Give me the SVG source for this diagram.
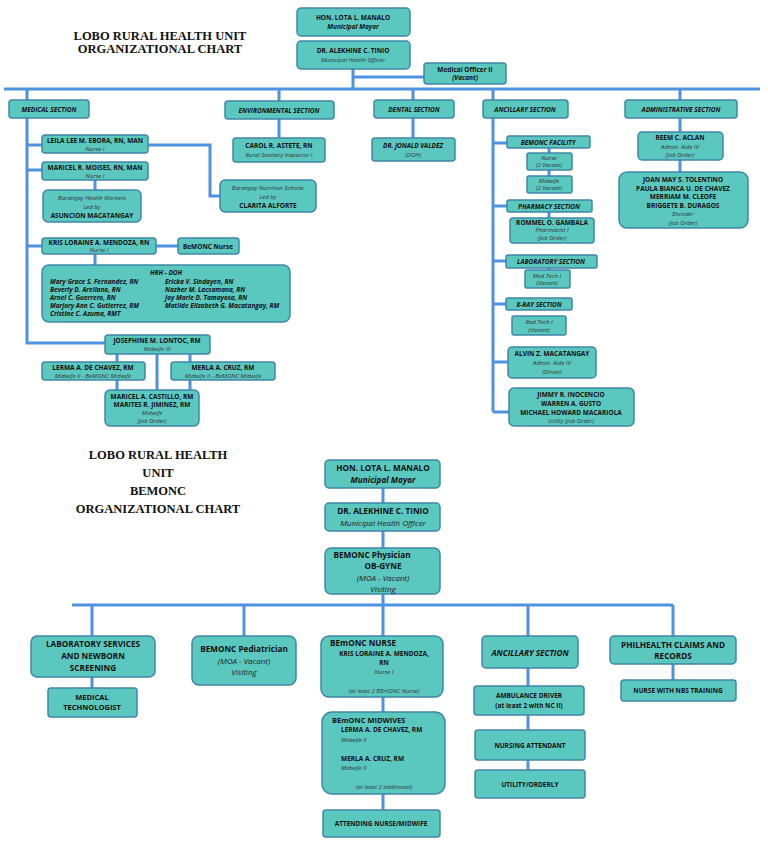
<svg xmlns="http://www.w3.org/2000/svg" width="768" height="866" viewBox="0 0 768 866">
<style>
.b{fill:#5bc8c0;stroke:#3f86a8;stroke-width:1.5}
.c{stroke:#4f92e0;stroke-width:3;fill:none}
text{font-family:"Open Sans","Liberation Sans",sans-serif;text-anchor:middle;fill:#111}
.t{font-size:6.5px;font-weight:bold}
.i{font-size:6px;font-style:italic;fill:#333}
.bi{font-size:6.5px;font-weight:bold;font-style:italic}
.h{font-family:"Liberation Serif",serif;font-weight:bold;font-size:12.5px}
.T{font-size:8.2px;font-weight:bold}
.I{font-size:8px;font-style:italic;fill:#222}
.s{font-size:7.5px;font-weight:bold}
</style>
<rect width="768" height="866" fill="#fff"/>
<g id="connectors">
<path class="c" d="M353 69V89M353 77H424M4 89H760M27 89V343H105M279 89V101M413 89V100M493 89V412M680 89V100"/>
<path class="c" d="M27 145H42M27 170H42M27 246H42M95 180V190M95 253V265M148 145H210V196H220M156 246H178"/>
<path class="c" d="M117 354V362M117 380V390M157 354V390M190 354V362M190 380V390"/>
<path class="c" d="M279 119V138M413 118V138M680 118V132M680 160V172"/>
<path class="c" d="M493 143H507M493 206H507M493 261H506M493 304H506M493 362H508M493 412H509M549 148V153M549 170V176M549 212V218M549 268V270"/>
<path class="c" d="M383 488V503M383 531V548M383 594V636M72 605H673M92 605V636M244 605V636M528 605V636M673 605V636M92 677V688M383 697V712M383 794V810M528 668V730M528 760V770M673 664V680"/>
</g>
<g id="titles">
<text class="h" x="160" y="40">LOBO RURAL HEALTH UNIT</text>
<text class="h" x="160" y="53">ORGANIZATIONAL CHART</text>
<text class="h" x="158" y="459" font-size="14">LOBO RURAL HEALTH</text>
<text class="h" x="158" y="477" font-size="14">UNIT</text>
<text class="h" x="158" y="495" font-size="14">BEMONC</text>
<text class="h" x="158" y="513" font-size="14">ORGANIZATIONAL CHART</text>
</g>
<g id="mayor"><rect class="b" x="297" y="8" width="113" height="28" rx="4"/><text class="t" x="353" y="20">HON. LOTA L. MANALO</text><text class="bi" x="353" y="29">Municipal Mayor</text></g>
<g id="mho"><rect class="b" x="297" y="41" width="113" height="28" rx="4"/><text class="t" x="353" y="53">DR. ALEKHINE C. TINIO</text><text class="i" x="353" y="62">Municipal Health Officer</text></g>
<g id="mo2"><rect class="b" x="424" y="63" width="82" height="21" rx="3"/><text class="t" x="465" y="72" font-size="5.5">Medical Officer II</text><text class="bi" x="465" y="80" font-size="5.5">(Vacant)</text></g>
<g id="medical"><rect class="b" x="9" y="100" width="80" height="18" rx="3"/><text class="bi" x="49" y="112">MEDICAL SECTION</text></g>
<g id="environmental"><rect class="b" x="225" y="101" width="109" height="18" rx="3"/><text class="bi" x="279" y="113">ENVIRONMENTAL SECTION</text></g>
<g id="dental"><rect class="b" x="374" y="100" width="80" height="18" rx="3"/><text class="bi" x="414" y="112">DENTAL SECTION</text></g>
<g id="ancillary"><rect class="b" x="483" y="100" width="85" height="18" rx="3"/><text class="bi" x="525" y="112">ANCILLARY SECTION</text></g>
<g id="administrative"><rect class="b" x="625" y="100" width="112" height="18" rx="3"/><text class="bi" x="681" y="112">ADMINISTRATIVE SECTION</text></g>
<g id="leila"><rect class="b" x="42" y="135" width="106" height="18" rx="3"/><text class="t" x="95" y="143">LEILA LEE M. EBORA, RN, MAN</text><text class="i" x="95" y="151">Nurse I</text></g>
<g id="maricel"><rect class="b" x="42" y="162" width="106" height="18" rx="3"/><text class="t" x="95" y="170">MARICEL R. MOISES, RN, MAN</text><text class="i" x="95" y="178">Nurse I</text></g>
<g id="bhw"><rect class="b" x="43" y="190" width="98" height="32" rx="5"/><text class="i" x="92" y="200">Barangay Health Workers</text><text class="i" x="92" y="209">Led by</text><text class="t" x="92" y="218">ASUNCION MACATANGAY</text></g>
<g id="nutrition"><rect class="b" x="220" y="180" width="96" height="32" rx="5"/><text class="i" x="268" y="190">Barangay Nutrition Scholar</text><text class="i" x="268" y="199">Led by</text><text class="t" x="268" y="208">CLARITA ALFORTE</text></g>
<g id="kris"><rect class="b" x="42" y="238" width="114" height="16" rx="3"/><text class="t" x="99" y="245">KRIS LORAINE A. MENDOZA, RN</text><text class="i" x="99" y="252">Nurse I</text></g>
<g id="bemoncnurse"><rect class="b" x="178" y="238" width="61" height="16" rx="3"/><text class="t" x="208" y="249">BeMONC Nurse</text></g>
<g id="hrh"><rect class="b" x="42" y="265" width="248" height="57" rx="7"/><text class="bi" x="166" y="275">HRH - DOH</text>
<g class="bi"><text x="50" y="284" style="text-anchor:start">Mary Grace S. Fernandez, RN</text><text x="50" y="292" style="text-anchor:start">Beverly D. Arellano, RN</text><text x="50" y="300" style="text-anchor:start">Arnel C. Guerrero, RN</text><text x="50" y="308" style="text-anchor:start">Marjory Ann C. Gutierrez, RM</text><text x="50" y="316" style="text-anchor:start">Cristine C. Azuma, RMT</text>
<text x="165" y="284" style="text-anchor:start">Ericka V. Sindayen, RN</text><text x="165" y="292" style="text-anchor:start">Nazher M. Lacsamana, RN</text><text x="165" y="300" style="text-anchor:start">Joy Marie D. Tamayosa, RN</text><text x="165" y="308" style="text-anchor:start">Matilde Elizabeth G. Macatangay, RM</text></g></g>
<g id="josephine"><rect class="b" x="105" y="335" width="105" height="19" rx="3"/><text class="t" x="157" y="343">JOSEPHINE M. LONTOC, RM</text><text class="i" x="157" y="351">Midwife III</text></g>
<g id="lerma"><rect class="b" x="42" y="362" width="103" height="18" rx="3"/><text class="t" x="93" y="370">LERMA  A.  DE CHAVEZ, RM</text><text class="i" x="93" y="378">Midwife II - BeMONC Midwife</text></g>
<g id="merla"><rect class="b" x="171" y="362" width="104" height="18" rx="3"/><text class="t" x="223" y="370">MERLA A. CRUZ, RM</text><text class="i" x="223" y="378">Midwife II - BeMONC Midwife</text></g>
<g id="castillo"><rect class="b" x="105" y="390" width="94" height="36" rx="5"/><text class="t" x="152" y="399">MARICEL A. CASTILLO, RM</text><text class="t" x="152" y="407">MARITES R. JIMINEZ, RM</text><text class="i" x="152" y="415">Midwife</text><text class="i" x="152" y="423">(Job Order)</text></g>
<g id="carol"><rect class="b" x="233" y="138" width="92" height="24" rx="3"/><text class="t" x="279" y="148">CAROL R. ASTETE, RN</text><text class="i" x="279" y="157">Rural Sanitary Inspector I</text></g>
<g id="jonald"><rect class="b" x="372" y="138" width="83" height="23" rx="3"/><text class="bi" x="413" y="148">DR. JONALD VALDEZ</text><text class="i" x="413" y="157">(DOH)</text></g>
<g id="bemoncfac"><rect class="b" x="507" y="136" width="83" height="12" rx="2"/><text class="bi" x="548" y="145">BEMONC FACILITY</text></g>
<g id="nursevac"><rect class="b" x="527" y="153" width="45" height="17" rx="2"/><text class="i" x="549" y="160">Nurse</text><text class="i" x="549" y="167">(2 Vacant)</text></g>
<g id="midwifevac"><rect class="b" x="527" y="176" width="45" height="17" rx="2"/><text class="i" x="549" y="183">Midwife</text><text class="i" x="549" y="190">(2 Vacant)</text></g>
<g id="pharmacy"><rect class="b" x="507" y="200" width="85" height="12" rx="2"/><text class="bi" x="549" y="209">PHARMACY SECTION</text></g>
<g id="rommel"><rect class="b" x="510" y="218" width="84" height="25" rx="3"/><text class="t" x="552" y="225">ROMMEL O. GAMBALA</text><text class="i" x="552" y="232">Pharmacist I</text><text class="i" x="552" y="240">(Job Order)</text></g>
<g id="lab"><rect class="b" x="506" y="255" width="91" height="13" rx="2"/><text class="bi" x="551" y="264">LABORATORY SECTION</text></g>
<g id="medtech"><rect class="b" x="525" y="270" width="45" height="18" rx="2"/><text class="i" x="547" y="278">Med Tech I</text><text class="i" x="547" y="285">(Vacant)</text></g>
<g id="xray"><rect class="b" x="506" y="298" width="66" height="12" rx="2"/><text class="bi" x="539" y="307">X-RAY SECTION</text></g>
<g id="radtech"><rect class="b" x="512" y="316" width="54" height="19" rx="2"/><text class="i" x="539" y="324">Rad Tech I</text><text class="i" x="539" y="332">(Vacant)</text></g>
<g id="alvin"><rect class="b" x="508" y="347" width="88" height="31" rx="4"/><text class="t" x="552" y="356">ALVIN Z. MACATANGAY</text><text class="i" x="552" y="365">Admin. Aide IV</text><text class="i" x="552" y="374">(Driver)</text></g>
<g id="jimmy"><rect class="b" x="509" y="388" width="125" height="38" rx="5"/><text class="t" x="571" y="397">JIMMY R. INOCENCIO</text><text class="t" x="571" y="406">WARREN A. GUSTO</text><text class="t" x="571" y="415">MICHAEL HOWARD MACARIOLA</text><text class="i" x="571" y="423">Utility (Job Order)</text></g>
<g id="reem"><rect class="b" x="638" y="132" width="85" height="28" rx="4"/><text class="t" x="680" y="140">REEM C. ACLAN</text><text class="i" x="680" y="149">Admin. Aide IV</text><text class="i" x="680" y="157">(Job Order)</text></g>
<g id="joan"><rect class="b" x="619" y="172" width="129" height="56" rx="8"/><text class="t" x="683" y="182">JOAN MAY S. TOLENTINO</text><text class="t" x="683" y="191">PAULA BIANCA U. DE CHAVEZ</text><text class="t" x="683" y="199">MERRIAM M. CLEOFE</text><text class="t" x="683" y="208">BRIGGETE B. DURAGOS</text><text class="i" x="683" y="216">Encoder</text><text class="i" x="683" y="225">(Job Order)</text></g>

<g id="b-mayor"><rect class="b" x="325" y="460" width="115" height="28" rx="4"/><text class="T" x="383" y="471">HON. LOTA L. MANALO</text><text class="T" x="383" y="483" font-style="italic">Municipal Mayor</text></g>
<g id="b-mho"><rect class="b" x="325" y="503" width="115" height="28" rx="4"/><text class="T" x="383" y="514">DR. ALEKHINE C. TINIO</text><text class="I" x="383" y="526">Municipal Health Officer</text></g>
<g id="b-phys"><rect class="b" x="325" y="548" width="115" height="46" rx="6"/><text class="T" x="372" y="558">BEMONC Physician</text><text class="T" x="383" y="569">OB-GYNE</text><text class="I" x="383" y="581">(MOA - Vacant)</text><text class="I" x="383" y="592">Visiting</text></g>
<g id="b-lab"><rect class="b" x="31" y="636" width="124" height="41" rx="6"/><text class="T" x="93" y="647">LABORATORY SERVICES</text><text class="T" x="93" y="659">AND NEWBORN</text><text class="T" x="93" y="671">SCREENING</text></g>
<g id="b-medtech"><rect class="b" x="48" y="688" width="89" height="29" rx="3"/><text class="s" x="92" y="700">MEDICAL</text><text class="s" x="92" y="710">TECHNOLOGIST</text></g>
<g id="b-ped"><rect class="b" x="192" y="636" width="104" height="49" rx="7"/><text class="T" x="244" y="652">BEMONC Pediatrician</text><text class="I" x="244" y="664">(MOA - Vacant)</text><text class="I" x="244" y="675">Visiting</text></g>
<g id="b-nurse"><rect class="b" x="321" y="636" width="122" height="61" rx="8"/><text class="T" x="330" y="646" style="text-anchor:start">BEmONC NURSE</text><text class="t" x="384" y="656">KRIS LORAINE A. MENDOZA,</text><text class="t" x="384" y="665">RN</text><text class="i" x="384" y="674">Nurse I</text><text class="i" x="384" y="693">(at least 2 BEmONC Nurse)</text></g>
<g id="b-midwives"><rect class="b" x="322" y="712" width="123" height="82" rx="10"/><text class="s" x="332" y="723" style="text-anchor:start">BEmONC MIDWIVES</text><text class="t" x="341" y="732" style="text-anchor:start">LERMA  A.  DE CHAVEZ, RM</text><text class="i" x="341" y="742" style="text-anchor:start">Midwife II</text><text class="t" x="341" y="761" style="text-anchor:start">MERLA A. CRUZ, RM</text><text class="i" x="341" y="770" style="text-anchor:start">Midwife II</text><text class="i" x="384" y="789">(at least 2 additional)</text></g>
<g id="b-attending"><rect class="b" x="323" y="810" width="117" height="27" rx="3"/><text class="t" x="381" y="826">ATTENDING NURSE/MIDWIFE</text></g>
<g id="b-anc"><rect class="b" x="482" y="636" width="96" height="32" rx="4"/><text class="T" x="530" y="656" font-style="italic">ANCILLARY SECTION</text></g>
<g id="b-amb"><rect class="b" x="474" y="686" width="110" height="29" rx="3"/><text class="t" x="529" y="698">AMBULANCE DRIVER</text><text class="t" x="529" y="708">(at least 2 with NC II)</text></g>
<g id="b-na"><rect class="b" x="475" y="730" width="110" height="30" rx="3"/><text class="t" x="530" y="748">NURSING ATTENDANT</text></g>
<g id="b-util"><rect class="b" x="475" y="770" width="110" height="28" rx="3"/><text class="t" x="530" y="787">UTILITY/ORDERLY</text></g>
<g id="b-phil"><rect class="b" x="610" y="636" width="126" height="28" rx="4"/><text class="T" x="673" y="648">PHILHEALTH CLAIMS AND</text><text class="T" x="673" y="659">RECORDS</text></g>
<g id="b-nbs"><rect class="b" x="621" y="680" width="115" height="21" rx="3"/><text class="t" x="678" y="693">NURSE WITH NBS TRAINING</text></g>
</svg>
